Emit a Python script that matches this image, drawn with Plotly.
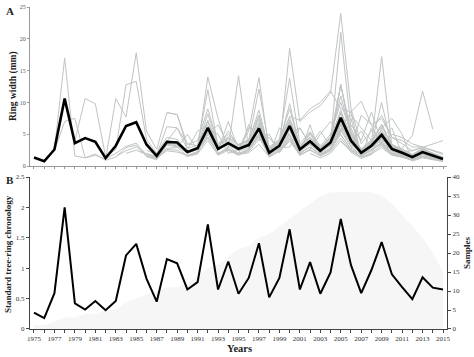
import plotly.graph_objects as go

years = list(range(1975, 2016))

mean_width = [1.35, 0.75, 2.6, 10.6, 3.6, 4.4, 3.8, 1.25, 3.2, 6.3, 6.9, 3.4, 1.6,
              3.8, 3.7, 2.2, 2.8, 6.0, 2.7, 3.6, 2.7, 3.3, 5.9, 2.1, 3.2, 6.3,
              2.6, 3.9, 2.4, 3.7, 7.6, 4.0, 2.1, 3.2, 4.9, 2.7, 2.1, 1.4, 2.2, 1.6, 1.1]

chronology = [0.27, 0.18, 0.59, 2.0, 0.42, 0.32, 0.46, 0.31, 0.46, 1.21, 1.40, 0.83, 0.45,
              1.15, 1.08, 0.65, 0.77, 1.72, 0.65, 1.11, 0.58, 0.84, 1.41, 0.52, 0.84, 1.64,
              0.65, 1.10, 0.58, 0.93, 1.81, 1.05, 0.59, 0.97, 1.43, 0.90, 0.69, 0.49, 0.85, 0.68, 0.65]

samples = [1, 1, 2, 3, 3, 4, 4, 5, 5, 7, 8, 9, 10, 11, 11, 12, 14, 16, 17, 19, 21,
           22, 24, 25, 27, 29, 31, 33, 35, 36, 36, 36, 36, 36, 35, 33, 30, 27, 24, 20, 15]

# individual tree series: (start year, values)
g01 = (1977, [2.6, 17.0, 1.6, 1.3, 1.9, 0.9, 1.4, 2.9, 3.3, 1.9, 1.3, 2.4, 2.2, 1.7, 2.3, 4.4, 2.0, 2.7, 1.8, 2.1,
              3.4, 1.5, 2.3, 3.9, 1.8, 2.5, 1.6, 2.3, 4.4, 2.4, 1.4, 1.9, 2.9, 1.7, 1.4, 1.0, 1.5, 1.1, 0.8])
g02 = (1977, [2.4, 7.0, 7.5, 1.3, 1.7, 1.1, 2.0, 3.1, 3.6, 1.5, 1.0, 3.3, 3.0, 1.6, 2.0, 5.2, 1.8, 3.1, 2.0, 2.6,
              4.8, 1.4, 2.4, 5.0, 2.0, 3.0, 1.8, 2.8, 6.0, 3.1, 1.6, 2.5, 3.8, 2.1, 1.6, 1.1, 1.8, 1.3, 0.9])
g03 = (1979, [4.0, 10.6, 9.8, 1.5, 2.6, 12.8, 13.3, 4.2, 2.0, 4.5, 4.2, 2.3, 3.0, 7.0, 2.6, 3.8, 2.5, 3.2,
              6.5, 2.0, 3.1, 7.2, 2.4, 3.8, 2.1, 3.5, 8.5, 3.8, 1.9, 3.0, 5.2, 2.5, 1.9, 1.3, 2.0, 1.5, 1.0])
g04 = (1982, [1.0, 10.6, 7.7, 17.8, 5.5, 2.6, 8.4, 8.1, 3.4, 4.0, 9.0, 3.5, 5.0, 3.4, 4.2, 8.0, 2.8, 4.0,
              9.0, 3.0, 5.0, 2.9, 4.6, 11.0, 5.0, 2.6, 4.0, 6.5, 3.3, 2.6, 1.8, 2.8, 2.0, 1.4])
g05 = (1983, [1.5, 2.4, 3.0, 1.6, 1.1, 2.6, 2.5, 1.5, 1.9, 4.0, 1.7, 2.5, 1.8, 6.5, 4.0, 5.0, 2.1, 4.3,
              1.7, 2.6, 1.6, 2.5, 5.0, 2.6, 1.4, 2.1, 3.2, 1.8, 1.4, 0.9, 1.5, 1.1, 0.8])
g06 = (1984, [2.0, 2.5, 1.8, 1.3, 3.9, 6.0, 2.6, 5.5, 6.4, 3.1, 4.2, 2.9, 3.6, 6.2, 2.4, 3.3, 6.6, 2.8,
              4.0, 2.6, 3.8, 7.7, 4.2, 2.3, 3.3, 5.0, 2.9, 2.3, 1.5, 2.3, 1.7, 1.2])
g07 = (1986, [2.5, 1.8, 6.2, 6.0, 3.5, 3.2, 12.0, 3.0, 5.5, 3.2, 4.0, 8.8, 2.5, 3.7, 9.8, 3.0, 5.2, 2.8,
              4.6, 12.8, 5.5, 2.4, 3.6, 6.6, 3.1, 2.4, 1.6, 2.5, 1.8, 1.2])
g08 = (1986, [1.5, 1.2, 2.8, 2.9, 5.0, 2.5, 4.9, 6.5, 3.3, 2.4, 2.8, 5.1, 1.8, 2.8, 5.2, 6.0, 3.3, 5.5,
              3.1, 6.4, 3.5, 1.8, 2.8, 4.1, 2.3, 1.8, 1.2, 1.9, 1.4, 1.0])
g09 = (1988, [3.4, 3.2, 2.0, 2.6, 14.0, 7.5, 2.5, 1.7, 2.6, 5.0, 2.0, 2.9, 5.6, 2.3, 3.4, 2.1, 3.3, 6.8,
              3.6, 1.9, 2.9, 4.4, 2.4, 1.9, 1.3, 2.0, 1.4, 1.0])
g10 = (1988, [8.4, 8.1, 2.8, 3.3, 7.2, 3.2, 4.4, 3.3, 3.9, 7.4, 2.6, 3.9, 7.6, 3.2, 4.6, 3.0, 4.3, 8.8,
              4.6, 2.5, 3.8, 5.7, 3.1, 2.5, 1.7, 2.6, 1.9, 1.3])
g11 = (1990, [1.6, 2.2, 4.6, 2.0, 2.8, 14.2, 2.7, 8.0, 1.6, 6.0, 4.8, 2.0, 3.0, 1.8, 2.7, 5.6, 3.0, 1.6,
              2.4, 3.6, 2.0, 1.6, 1.0, 1.6, 1.2, 0.8])
g12 = (1991, [2.4, 5.6, 5.0, 2.0, 2.6, 5.5, 13.9, 2.2, 3.0, 6.0, 2.5, 3.6, 2.2, 3.4, 7.0, 3.7, 2.0, 3.0,
              4.5, 2.5, 2.0, 1.3, 2.0, 1.5, 1.0])
g13 = (1991, [3.2, 8.2, 3.3, 4.6, 3.4, 4.1, 12.1, 3.0, 4.2, 13.8, 3.5, 5.4, 3.2, 5.0, 10.0, 5.2, 2.7, 4.1,
              6.2, 3.4, 2.7, 1.8, 2.7, 2.0, 1.4])
g14 = (1993, [1.9, 2.7, 2.0, 2.5, 4.6, 1.6, 2.6, 18.5, 7.0, 8.5, 9.5, 11.5, 24.0, 9.0, 3.5, 5.5, 8.0, 4.5,
              3.5, 2.4, 3.0, 2.4, 1.8])
g15 = (1993, [2.8, 3.9, 2.8, 3.3, 6.0, 2.3, 3.3, 6.5, 2.8, 4.0, 2.6, 3.8, 21.0, 6.0, 2.4, 3.5, 5.4, 3.0,
              2.4, 1.6, 2.4, 1.8, 1.2])
g16 = (1995, [1.8, 2.3, 4.2, 4.5, 2.3, 4.6, 1.8, 6.5, 1.7, 2.6, 5.3, 7.5, 1.5, 6.0, 3.4, 1.9, 1.5, 1.0,
              1.5, 1.1, 0.8])
g17 = (1995, [3.0, 3.7, 6.8, 2.5, 3.6, 7.0, 3.0, 4.4, 2.8, 4.2, 12.8, 4.6, 2.5, 3.7, 17.2, 3.2, 2.5, 1.7,
              2.5, 1.8, 1.3])
g18 = (1997, [5.2, 1.9, 2.9, 3.0, 6.0, 3.4, 2.1, 3.2, 6.6, 3.5, 5.5, 2.9, 4.4, 6.0, 1.9, 1.2, 1.9, 1.4, 1.0])
g19 = (1997, [7.0, 2.8, 4.0, 7.8, 7.2, 9.0, 10.0, 11.8, 9.0, 8.5, 10.2, 6.5, 7.5, 4.5, 4.0, 3.0, 3.0, 2.5, 2.0])
g20 = (1999, [2.2, 4.2, 1.7, 2.6, 5.0, 7.0, 4.9, 2.6, 8.0, 6.5, 3.2, 1.8, 1.4, 0.9, 1.5, 1.1, 0.8])
g21 = (1999, [3.5, 6.9, 2.9, 4.4, 2.7, 4.0, 8.3, 4.4, 2.3, 3.5, 10.0, 3.0, 2.3, 1.6, 2.4, 1.8, 1.2])
g22 = (2001, [2.0, 3.0, 1.9, 2.8, 5.8, 8.5, 1.7, 2.5, 3.7, 5.0, 4.5, 3.5, 3.0, 1.3, 0.9])
g23 = (2001, [2.6, 3.8, 2.4, 3.6, 12.8, 5.0, 2.2, 3.3, 5.0, 2.8, 2.2, 1.5, 2.2, 1.6, 1.1])
g24 = (2002, [2.0, 1.3, 2.0, 4.0, 2.2, 1.2, 1.8, 6.0, 7.5, 5.0, 0.8, 1.3, 1.0, 0.7])
g25 = (2003, [2.3, 3.2, 6.5, 8.0, 6.0, 4.0, 4.2, 3.0, 2.8, 4.8, 11.8, 5.8])
g26 = (2003, [1.8, 2.7, 5.6, 6.5, 4.0, 8.5, 3.6, 2.0, 1.6, 1.0, 1.6, 1.2, 0.9])
g27 = (1986, [2.0, 1.5, 3.5, 3.4, 2.2, 2.7, 5.6, 2.5, 7.0, 2.6, 6.0, 5.6, 2.0, 3.0, 6.0, 2.4, 3.6, 2.2,
              3.5, 7.2, 3.8, 2.0, 3.0, 4.6, 2.6, 2.0, 1.3, 2.1, 1.5, 1.0])
g28 = (2005, [3.8, 2.6, 1.8, 2.6, 3.4, 2.6, 2.3, 2.4, 2.9, 3.4, 4.0])

tree_series = [g01, g02, g03, g04, g05, g06, g07, g08, g09, g10, g11, g12, g13, g14,
               g15, g16, g17, g18, g19, g20, g21, g22, g23, g24, g25, g26, g27, g28]

x_tick_labels = [str(y) for y in range(1975, 2016, 2)]

SERIF = "Liberation Serif"
fig = go.Figure()

for start, vals in tree_series:
    fig.add_trace(go.Scatter(x=list(range(start, start + len(vals))), y=vals, mode="lines",
                             line=dict(color="#c0c4c4", width=1), xaxis="x", yaxis="y",
                             showlegend=False, hoverinfo="skip"))

fig.add_trace(go.Scatter(x=years, y=mean_width, mode="lines", line=dict(color="black", width=2.6),
                         xaxis="x", yaxis="y", showlegend=False))

fig.add_trace(go.Scatter(x=years, y=samples, mode="lines", fill="tozeroy",
                         fillcolor="#f6f6f6", line=dict(width=0, color="#f6f6f6"),
                         xaxis="x2", yaxis="y2", showlegend=False))

fig.add_trace(go.Scatter(x=years, y=chronology, mode="lines", line=dict(color="black", width=2),
                         xaxis="x2", yaxis="y3", showlegend=False))

xr = [1974.61, 2015.39]
tickfont = dict(family=SERIF, size=7, color="#333")

fig.update_layout(
    width=474, height=357,
    margin=dict(l=30, r=27, t=3, b=28),
    paper_bgcolor="white", plot_bgcolor="rgba(0,0,0,0)",
    showlegend=False,
    xaxis=dict(domain=[0, 1], range=xr, anchor="y", showticklabels=False, ticks="outside",
               dtick=1, tick0=1975, ticklen=2, tickcolor="#999", showline=True, linecolor="#999",
               linewidth=1, showgrid=False, zeroline=False),
    yaxis=dict(domain=[0.506, 1], range=[0, 25], dtick=5, ticks="outside", ticklen=2,
               tickcolor="#999", showline=True, linecolor="#999", showgrid=False, zeroline=False,
               tickfont=dict(family=SERIF, size=6, color="#555")),
    xaxis2=dict(domain=[0, 1], range=xr, anchor="y2", tickvals=list(range(1975, 2016, 2)),
                ticktext=x_tick_labels, ticks="outside", ticklen=3, tickcolor="#444",
                minor=dict(dtick=1, tick0=1975, ticks="outside", ticklen=3, tickcolor="#444"),
                showline=True, linecolor="#444", linewidth=1, showgrid=False, zeroline=False,
                tickfont=tickfont, tickangle=0),
    yaxis2=dict(domain=[0, 0.472], range=[0, 40], dtick=5, anchor="x2", side="right",
                ticks="outside", ticklen=3, tickcolor="#444", showline=True, linecolor="#444",
                showgrid=False, zeroline=False, tickfont=tickfont),
    yaxis3=dict(overlaying="y2", anchor="x2", side="left", range=[0, 2.5],
                tickvals=[0, 0.5, 1, 1.5, 2, 2.5], ticktext=["0", "0.5", "1", "1.5", "2", "2.5"],
                ticks="outside", ticklen=3, tickcolor="#444", showline=True, linecolor="#444",
                showgrid=False, zeroline=False, tickfont=tickfont),
)

ann = [
    dict(text="<b>A</b>", x=10, y=7, size=11, angle=0),
    dict(text="<b>B</b>", x=10, y=178, size=11, angle=0),
    dict(text="<b>Ring width (mm)</b>", x=13, y=83, size=9.5, angle=-90),
    dict(text="<b>Standard tree-ring chronology</b>", x=8, y=253, size=9, angle=-90),
    dict(text="<b>Samples</b>", x=467, y=251, size=9, angle=-90),
    dict(text="<b>Years</b>", x=239, y=349, size=10.5, angle=0),
]
for a in ann:
    fig.add_annotation(text=a["text"], xref="paper", yref="paper",
                       x=(a["x"] - 30) / 417, y=(329 - a["y"]) / 326,
                       xanchor="center", yanchor="middle", showarrow=False,
                       textangle=a["angle"], font=dict(family=SERIF, size=a["size"], color="#222"))

fig.write_html("out.html", config={"displayModeBar": False},
               post_script="document.body.style.margin='0';document.body.style.overflow='hidden';")
